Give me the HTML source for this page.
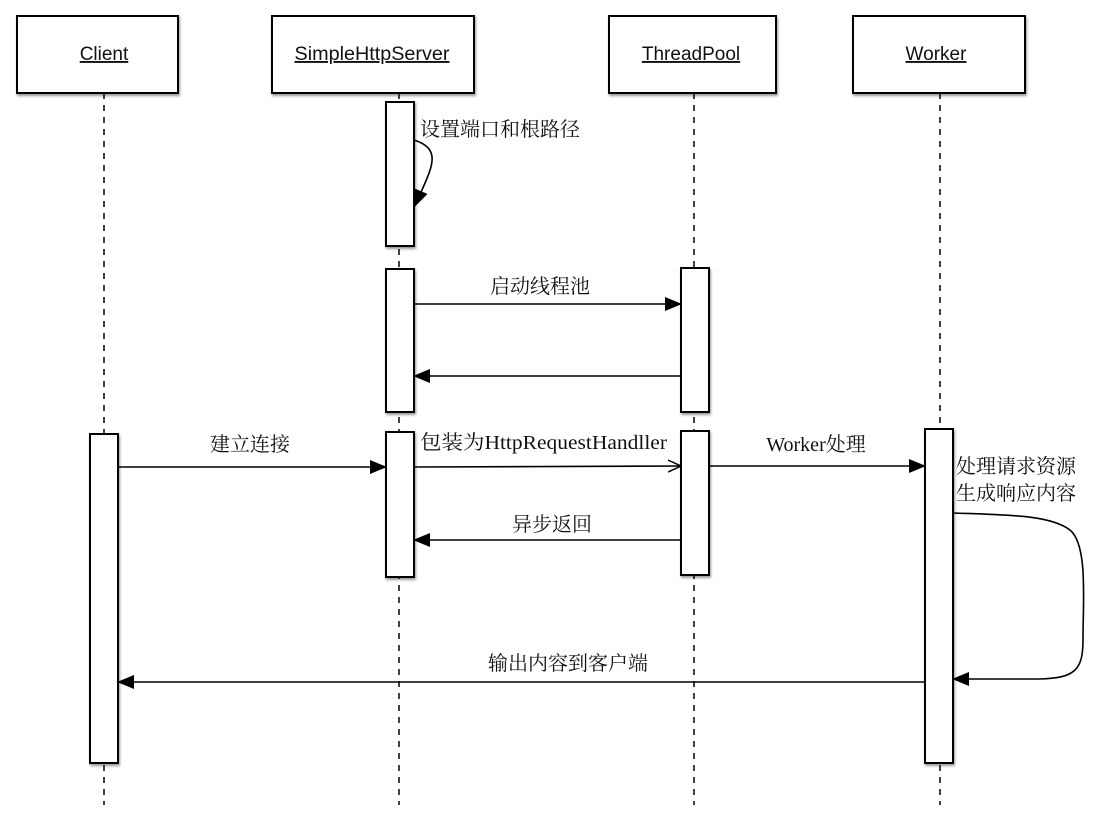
<!DOCTYPE html>
<html><head><meta charset="utf-8"><style>
body{margin:0;background:#fff;}
svg text{font-family:"Liberation Serif","Noto Serif CJK SC",serif;font-size:20px;fill:#111;}
.h{font-family:"Liberation Sans",sans-serif;font-size:19px;text-decoration:underline;}
</style></head><body>
<svg width="1112" height="814" viewBox="0 0 1112 814" xmlns="http://www.w3.org/2000/svg">
<defs>
<marker id="f" markerWidth="17" markerHeight="14" refX="16" refY="7" orient="auto" markerUnits="userSpaceOnUse"><path d="M0,0 L17,7 L0,14 Z" fill="#000"/></marker>
<marker id="o" markerWidth="14" markerHeight="14" refX="13" refY="7" orient="auto" markerUnits="userSpaceOnUse"><path d="M0,1 L13,7 L0,13" fill="none" stroke="#000" stroke-width="1.5"/></marker>
<filter id="s"><feDropShadow dx="1" dy="2" stdDeviation="1.2" flood-opacity="0.4"/></filter>
</defs>
<g stroke="#000" stroke-width="1.5" stroke-dasharray="6,6">
<line x1="104" y1="93" x2="104" y2="805"/>
<line x1="399" y1="93" x2="399" y2="805"/>
<line x1="694" y1="93" x2="694" y2="805"/>
<line x1="940" y1="93" x2="940" y2="805"/>
</g>
<g fill="#fff" stroke="#000" stroke-width="2" filter="url(#s)">
<rect x="17" y="16" width="161" height="77"/>
<rect x="272" y="16" width="202" height="77"/>
<rect x="609" y="16" width="167" height="77"/>
<rect x="853" y="16" width="172" height="77"/>
<rect x="386" y="102" width="28" height="144"/>
<rect x="386" y="269" width="28" height="143"/>
<rect x="386" y="432" width="28" height="145"/>
<rect x="681" y="268" width="28" height="144"/>
<rect x="681" y="431" width="28" height="144"/>
<rect x="90" y="434" width="28" height="329"/>
<rect x="925" y="429" width="28" height="334"/>
</g>
<text class="h" x="104" y="60" text-anchor="middle">Client</text>
<text class="h" x="372" y="60" text-anchor="middle" textLength="155" lengthAdjust="spacingAndGlyphs">SimpleHttpServer</text>
<text class="h" x="691" y="60" text-anchor="middle">ThreadPool</text>
<text class="h" x="936" y="60" text-anchor="middle">Worker</text>
<g stroke="#000" stroke-width="1.6" fill="none">
<path d="M414,140 C445,150 430,170 415,206" marker-end="url(#f)"/>
<line x1="414" y1="304" x2="681" y2="304" marker-end="url(#f)"/>
<line x1="681" y1="376" x2="414" y2="376" marker-end="url(#f)"/>
<line x1="118" y1="467" x2="386" y2="467" marker-end="url(#f)"/>
<line x1="414" y1="467" x2="681" y2="466" marker-end="url(#o)"/>
<line x1="709" y1="466" x2="925" y2="466" marker-end="url(#f)"/>
<line x1="681" y1="540" x2="414" y2="540" marker-end="url(#f)"/>
<line x1="925" y1="682" x2="118" y2="682" marker-end="url(#f)"/>
<path d="M953,513 C1010,515 1050,515 1070,530 C1088,545 1083,600 1083,640 C1083,670 1075,678 1040,679 L953,679" marker-end="url(#f)"/>
</g>
<text x="420" y="136">设置端口和根路径</text>
<text x="540" y="293" text-anchor="middle">启动线程池</text>
<text x="250" y="451" text-anchor="middle">建立连接</text>
<text x="420" y="449" textLength="247" lengthAdjust="spacingAndGlyphs">包装为HttpRequestHandller</text>
<text x="816" y="451" text-anchor="middle">Worker处理</text>
<text x="956" y="473">处理请求资源</text>
<text x="956" y="500">生成响应内容</text>
<text x="552" y="531" text-anchor="middle">异步返回</text>
<text x="568" y="670" text-anchor="middle">输出内容到客户端</text>
</svg>
</body></html>
